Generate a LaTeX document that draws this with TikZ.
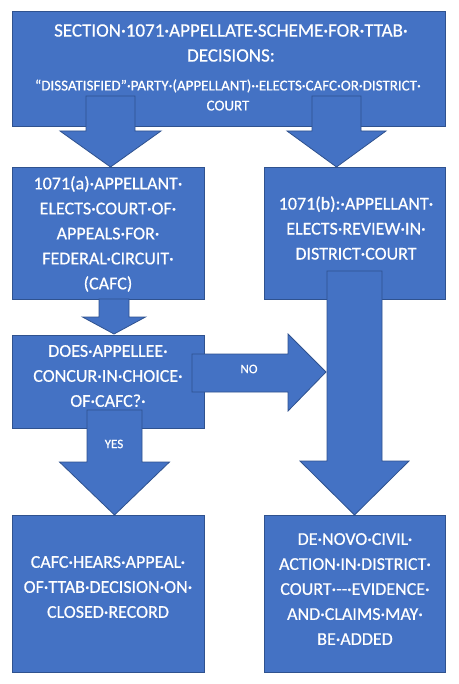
\documentclass[tikz,border=0pt]{standalone}
\usepackage{fontspec}
\setmainfont{Carlito}
\newfontfamily\txtfont{Carlito}[FakeBold=0.5]
\definecolor{fillblue}{HTML}{4472C4}
\definecolor{edgeblue}{HTML}{2F528F}
\newcommand\blkdown[6]{%
  \draw[barrow] (#1-#2,#4) -- (#1+#2,#4) -- (#1+#2,#5) -- (#1+#3,#5) -- (#1,#6) -- (#1-#3,#5) -- (#1-#2,#5) -- cycle;}
\begin{document}
\begin{tikzpicture}[x=1pt,y=-1pt,
  box/.style={draw=edgeblue, fill=fillblue, line width=0.8pt, inner sep=0pt},
  barrow/.style={draw=edgeblue, fill=fillblue, line width=0.8pt, line join=miter},
  btext/.style={text=white, align=center, inner sep=0pt, font=\txtfont\fontsize{18}{25}\selectfont},
  ttext/.style={text=white, align=center, inner sep=0pt, font=\txtfont\fontsize{19}{25}\selectfont},
  stext/.style={text=white, align=center, inner sep=0pt, font=\txtfont\fontsize{15}{20}\selectfont},
  ltext/.style={text=white, align=center, inner sep=0pt, font=\txtfont\fontsize{13}{16}\selectfont}]
\useasboundingbox (0,0) rectangle (458,684);
\fill[white] (0,0) rectangle (458,684);
% boxes
\node[box, minimum width=433pt, minimum height=115pt] (top) at (228.5,68.5) {};
\node[box, minimum width=192pt, minimum height=132pt] (boxa) at (108,233) {};
\node[box, minimum width=181pt, minimum height=132pt] (boxb) at (354.5,233) {};
\node[box, minimum width=192pt, minimum height=93pt] (does) at (108,381.5) {};
\node[box, minimum width=192pt, minimum height=157pt] (cafc) at (108,593.5) {};
\node[box, minimum width=181pt, minimum height=157pt] (denovo) at (354.5,593.5) {};
% texts
\node[ttext] (toptitle) at (231,43) {SECTION·1071·APPELLATE·SCHEME·FOR·TTAB·\\DECISIONS:};
\node[stext] (topsub) at (228,95) {“DISSATISFIED”·PARTY·(APPELLANT)··ELECTS·CAFC·OR·DISTRICT·\\COURT};
\node[btext] (atext) at (108,234) {1071(a)·APPELLANT·\\ELECTS·COURT·OF·\\APPEALS·FOR·\\FEDERAL·CIRCUIT·\\(CAFC)};
\node[btext] (btextn) at (356,228) {1071(b):·APPELLANT·\\ELECTS·REVIEW·IN·\\DISTRICT·COURT};
\node[btext] (doestext) at (108,376) {DOES·APPELLEE·\\CONCUR·IN·CHOICE·\\OF·CAFC?·};
\node[btext] (cafctext) at (108,587) {CAFC·HEARS·APPEAL·\\OF·TTAB·DECISION·ON·\\CLOSED·RECORD};
\node[btext] (denovotext) at (355,589) {DE·NOVO·CIVIL·\\ACTION·IN·DISTRICT·\\COURT·-{}-·EVIDENCE·\\AND·CLAIMS·MAY·\\BE·ADDED};
% block arrows
\blkdown{110.5}{24.5}{50.5}{96}{131}{167}
\blkdown{336.5}{24.5}{49.5}{96}{131}{167}
\blkdown{114}{15}{31.5}{299}{317}{334}
\blkdown{354.5}{27.5}{54.5}{271}{461}{515}
\blkdown{114.5}{27.5}{55}{410}{462}{515}
\draw[barrow] (192,354) -- (288,354) -- (288,334) -- (326,372) -- (288,411) -- (288,392) -- (192,392) -- cycle;
% arrow labels
\node[ltext] (nolabel) at (249,369) {NO};
\node[ltext] (yeslabel) at (114,444) {YES};
\end{tikzpicture}
\end{document}
